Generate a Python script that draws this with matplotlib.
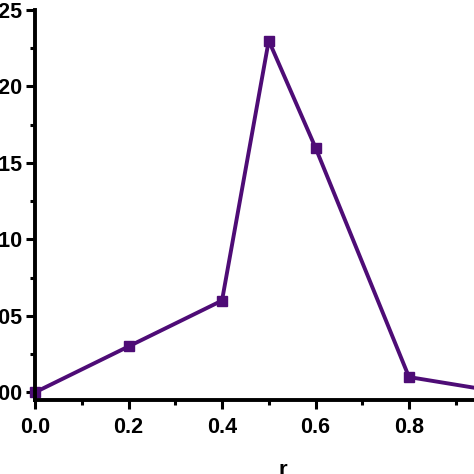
import matplotlib
matplotlib.use("Agg")
import matplotlib.pyplot as plt
from matplotlib.ticker import MultipleLocator, FormatStrFormatter

# data
r = [0.0, 0.2, 0.4, 0.5, 0.6, 0.8, 1.0]
vals = [0.0, 0.03, 0.06, 0.23, 0.16, 0.01, 0.0]

plt.rcParams['font.family'] = ['Liberation Sans', 'DejaVu Sans']
plt.rcParams['font.weight'] = 'bold'

fig = plt.figure(figsize=(4.74, 4.74), dpi=100)
# axes runs past the canvas on the left labels and the right end, as in the cropped original
ax = fig.add_axes([35/474, 74/474, 467.5/474, 390/474])

col = "#4e0c76"
ax.plot(r, vals, "-s", c=col, lw=2.8, ms=7, mfc=col, mec=col, clip_on=False)

ax.set_xlim(0, 1.0)
ax.set_ylim(-0.005, 0.25)

ax.xaxis.set_major_locator(MultipleLocator(0.2))
ax.xaxis.set_minor_locator(MultipleLocator(0.1))
ax.yaxis.set_major_locator(MultipleLocator(0.05))
ax.yaxis.set_minor_locator(MultipleLocator(0.025))
ax.xaxis.set_major_formatter(FormatStrFormatter("%.1f"))
ax.yaxis.set_major_formatter(FormatStrFormatter("%.2f"))

for s in ["top", "right"]:
    ax.spines[s].set_visible(False)
for s in ["left", "bottom"]:
    ax.spines[s].set_linewidth(2.8)

ax.tick_params(which="major", direction="out", length=6.5, width=2.2, labelsize=15.5, pad=3)
ax.tick_params(axis="x", which="major", pad=6)
ax.tick_params(which="minor", direction="out", length=3.5, width=2.2)

ax.set_xlabel("r", fontsize=16, fontweight="bold")
ax.xaxis.set_label_coords(0.53, -0.155)

fig.savefig("out.png", dpi=100)
